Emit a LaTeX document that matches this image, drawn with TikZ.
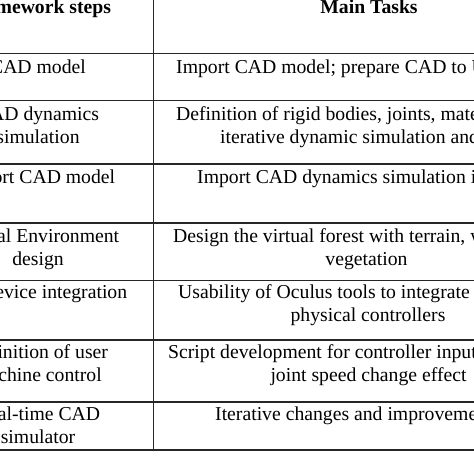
\documentclass[tikz,border=0pt]{standalone}
\usepackage{fontspec}
\setmainfont{Liberation Serif}
\begin{document}
\begin{tikzpicture}[x=1pt,y=-1pt,
  rule/.style={draw=black!85,line width=1.3pt},
  cell/.style={inner sep=0pt,anchor=base,font=\fontsize{19.7}{23}\selectfont},
  cellw/.style={cell,anchor=base west},
  head/.style={cell,font=\fontsize{19.7}{23}\selectfont\bfseries}]
\useasboundingbox (0,0) rectangle (474,474);
\clip (0,0) rectangle (474,474);
\fill[white] (0,0) rectangle (474,474);
% rules
\coordinate (vt) at (153.3,-5);
\coordinate (vb) at (153.3,450);
\draw[rule] (vt) -- (vb);
\foreach \y/\n in {53.3/a,100.5/b,164/c,223/d,280.5/e,340/f,402/g,450/h}{
  \coordinate (l\n) at (-5,\y);
  \coordinate (r\n) at (480,\y);
  \draw[rule] (l\n) -- (r\n);
}
% header
\node[head] (h1) at (38,13) {Framework steps};
\node[head] (h2) at (369,13) {Main Tasks};
% left column
\node[cell] (s1) at (38,73) {CAD model};
\node[cell] (s2a) at (38,120) {CAD dynamics};
\node[cell] (s2b) at (38,143) {simulation};
\node[cell] (s3) at (38,183) {Export CAD model};
\node[cell] (s4a) at (38,242) {Virtual Environment};
\node[cell] (s4b) at (38,265) {design};
\node[cell] (s5) at (38,298.5) {VR Device integration};
\node[cell] (s6a) at (38,358) {Definition of user};
\node[cell] (s6b) at (38,381.5) {machine control};
\node[cell] (s7a) at (38,420) {Real-time CAD};
\node[cell] (s7b) at (38,443) {simulator};
% right column
\node[cellw] (t1) at (176,73) {Import CAD model; prepare CAD to Unity};
\node[cellw] (t2a) at (176,120) {Definition of rigid bodies, joints, materials};
\node[cellw] (t2b) at (220,143) {iterative dynamic simulation and tests};
\node[cellw] (t3) at (197,183) {Import CAD dynamics simulation in Unity};
\node[cellw] (t4a) at (173,242) {Design the virtual forest with terrain, water};
\node[cell] (t4b) at (366.5,265) {vegetation};
\node[cellw] (t5a) at (178,298.5) {Usability of Oculus tools to integrate the};
\node[cell] (t5b) at (368,321.5) {physical controllers};
\node[cellw] (t6a) at (168,358) {Script development for controller inputs};
\node[cell] (t6b) at (368.5,381.5) {joint speed change effect};
\node[cellw] (t7) at (215,420) {Iterative changes and improvements};
\end{tikzpicture}
\end{document}
